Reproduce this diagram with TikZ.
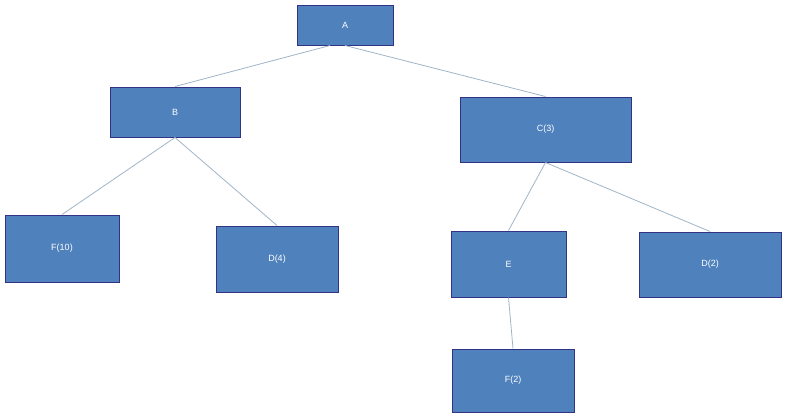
\documentclass[tikz,border=0pt]{standalone}
\usepackage{fontspec}
\setmainfont{Liberation Sans}
\begin{document}
\begin{tikzpicture}[x=1pt,y=-1pt,
  box/.style={draw=blue!40!black!80!white, line width=1pt, fill={rgb,255:red,79;green,129;blue,189}, text=white, font=\small, inner sep=0pt},
  edge/.style={draw={rgb,255:red,160;green,180;blue,200}, line width=0.8pt}]
\useasboundingbox (0,0) rectangle (798,418);
\newcommand{\bx}[6]{\node[box, minimum width=#4pt, minimum height=#5pt] (#1) at (#2,#3) {#6};}
\bx{A}{345}{25}{96}{40}{A}
\bx{B}{175}{112}{130}{50}{B}
\bx{C}{545.5}{129.5}{171}{65}{C(3)}
\bx{F1}{62}{248.5}{114}{67}{F(10)}
\bx{D4}{277}{259}{122}{66}{D(4)}
\bx{E}{508.5}{264}{115}{66}{E}
\bx{D2}{710}{264.5}{142}{65}{D(2)}
\bx{F2}{513}{380.5}{122}{63}{F(2)}
\draw[edge] (A.south) ++(-15,0) coordinate (a1) -- (B.north);
\draw[edge] (A.south) -- (C.north);
\draw[edge] (B.south) -- (F1.north);
\draw[edge] (B.south) -- (D4.north);
\draw[edge] (C.south) -- (E.north);
\draw[edge] (C.south) -- (D2.north);
\draw[edge] (E.south) -- (F2.north);
\end{tikzpicture}
\end{document}
